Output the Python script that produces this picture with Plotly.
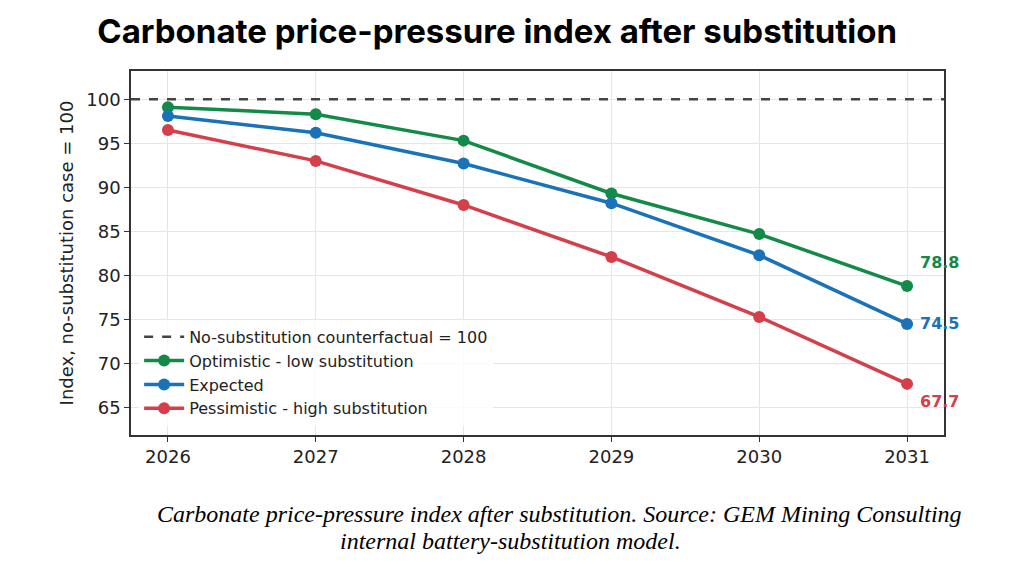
import plotly.graph_objects as go

years = [2026, 2027, 2028, 2029, 2030, 2031]
optimistic = [99.1, 98.3, 95.3, 89.3, 84.7, 78.8]
expected = [98.1, 96.2, 92.7, 88.2, 82.3, 74.5]
pessimistic = [96.5, 93.0, 88.0, 82.1, 75.3, 67.7]
baseline = 100

series_names = ["Optimistic - low substitution", "Expected", "Pessimistic - high substitution"]
colors = ["#138a48", "#1a72b8", "#d43f4a"]
label_shift = [24, 0, -18]

fig = go.Figure()
for i, (name, vals, col) in enumerate(zip(series_names, [optimistic, expected, pessimistic], colors)):
    fig.add_trace(go.Scatter(
        x=years, y=vals, mode="lines+markers", name=name,
        line=dict(color=col, width=3.5),
        marker=dict(color=col, size=12),
        legendrank=10 + i,
    ))
    fig.add_annotation(
        x=years[-1], y=vals[-1], text=f"<b>{vals[-1]:.1f}</b>", showarrow=False,
        xanchor="left", yanchor="middle", xshift=11, yshift=label_shift[i],
        font=dict(family="DejaVu Sans", size=16, color=col),
    )

fig.add_shape(
    type="line", xref="paper", x0=0, x1=1, yref="y", y0=baseline, y1=baseline,
    line=dict(color="#444444", width=2.5, dash="dash"),
    showlegend=True, name="No-substitution counterfactual = 100", legendrank=1,
)

fig.update_layout(
    width=1024, height=567,
    margin=dict(l=131, r=80, t=71, b=132),
    paper_bgcolor="white", plot_bgcolor="white",
    font=dict(family="DejaVu Sans", size=16, color="#222222"),
    title=dict(
        text="<b>Carbonate price-pressure index after substitution</b>",
        x=0.095, xanchor="left", y=0.945, yanchor="middle",
        font=dict(family="Inter", size=33, color="#000000"),
    ),
    legend=dict(
        x=0.01, y=0.025, xanchor="left", yanchor="bottom",
        bgcolor="rgba(255,255,255,0.8)", borderwidth=0,
        font=dict(family="DejaVu Sans", size=16, color="#222222"),
        tracegroupgap=0, itemwidth=40,
    ),
    showlegend=True,
)

fig.update_xaxes(
    range=[2025.75, 2031.25], tickmode="array", tickvals=years,
    ticktext=[str(y) for y in years],
    showgrid=True, gridcolor="#e6e6e6", gridwidth=1,
    showline=True, linecolor="#333333", linewidth=1.5, mirror=True,
    ticks="outside", ticklen=5, tickcolor="#333333",
    tickfont=dict(family="DejaVu Sans", size=18, color="#222222"),
    zeroline=False,
)
fig.update_yaxes(
    range=[61.9, 103.2], tickmode="array", tickvals=[65, 70, 75, 80, 85, 90, 95, 100],
    showgrid=True, gridcolor="#e6e6e6", gridwidth=1,
    showline=True, linecolor="#333333", linewidth=1.5, mirror=True,
    ticks="outside", ticklen=5, tickcolor="#333333",
    tickfont=dict(family="DejaVu Sans", size=18, color="#222222"),
    title=dict(text="Index, no-substitution case = 100", standoff=8,
               font=dict(family="DejaVu Sans", size=18, color="#222222")),
    zeroline=False,
)

caption_lines = [
    "Carbonate price-pressure index after substitution. Source: GEM Mining Consulting",
    "internal battery-substitution model.",
]
caption_pos = [(559, 514), (510, 541)]
for txt, (cx, cy) in zip(caption_lines, caption_pos):
    fig.add_annotation(
        xref="paper", yref="paper",
        x=(cx - 131) / (1024 - 131 - 80), y=(435 - cy) / (435 - 71),
        xanchor="center", yanchor="middle",
        text=f"<i>{txt}</i>", showarrow=False,
        font=dict(family="Liberation Serif", size=24, color="#000000"),
    )

fig.write_html("out.html")
